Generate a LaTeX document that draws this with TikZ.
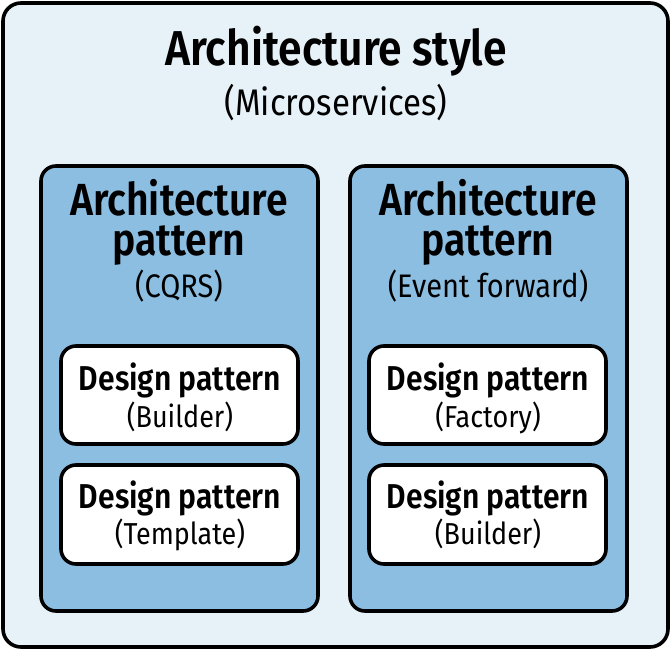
\documentclass[tikz,border=0pt]{standalone}
\usepackage{fontspec}
\setmainfont{Fira Sans}[FakeStretch=0.89]
\newfontfamily\headfont{Fira Sans SemiBold}[FakeStretch=0.87]
\definecolor{outerfill}{RGB}{230,241,248}
\definecolor{innerfill}{RGB}{140,190,226}
\begin{document}
\begin{tikzpicture}[x=1pt,y=-1pt,
  box/.style={draw=black,line width=3.6pt,rounded corners=15pt},
  outerbox/.style={box,fill=outerfill,rounded corners=18pt},
  archbox/.style={box,fill=innerfill},
  dpbox/.style={box,fill=white},
  titletxt/.style={anchor=base,inner sep=0pt,font=\headfont\fontsize{49}{49}\selectfont},
  subtitletxt/.style={anchor=base,inner sep=0pt,font=\fontsize{37}{37}\selectfont},
  aptxt/.style={anchor=base,inner sep=0pt,align=center,font=\headfont\fontsize{45}{40}\selectfont},
  apsub/.style={anchor=base,inner sep=0pt,font=\fontsize{32.6}{32.6}\selectfont},
  dptxt/.style={anchor=base,inner sep=0pt,font=\headfont\fontsize{34.5}{34.5}\selectfont},
  dpsub/.style={anchor=base,inner sep=0pt,font=\fontsize{30.3}{30.3}\selectfont}]
\useasboundingbox (0,0) rectangle (671,650);
% outer
\draw[outerbox] (3,3) rectangle (668,647);
\node[titletxt] (title) at (336,66) {Architecture style};
\node[subtitletxt] (titlesub) at (336,115) {(Microservices)};
% left architecture pattern
\draw[archbox] (41,166) rectangle (318,611);
\node[aptxt] (apl) at (179,255) {Architecture\\pattern};
\node[apsub] (apl3) at (179,297) {(CQRS)};
\draw[dpbox] (61,346) rectangle (298,444);
\node[dptxt] (dpl1a) at (180,390) {Design pattern};
\node[dpsub] (dpl1b) at (180,427) {(Builder)};
\draw[dpbox] (61,465) rectangle (298,564);
\node[dptxt] (dpl2a) at (180,508) {Design pattern};
\node[dpsub] (dpl2b) at (180,544) {(Template)};
% right architecture pattern
\draw[archbox] (350,166) rectangle (627,611);
\node[aptxt] (apr) at (488,255) {Architecture\\pattern};
\node[apsub] (apr3) at (488,297) {(Event forward)};
\draw[dpbox] (369,346) rectangle (606,444);
\node[dptxt] (dpr1a) at (488,390) {Design pattern};
\node[dpsub] (dpr1b) at (488,427) {(Factory)};
\draw[dpbox] (369,465) rectangle (606,564);
\node[dptxt] (dpr2a) at (488,508) {Design pattern};
\node[dpsub] (dpr2b) at (488,544) {(Builder)};
\end{tikzpicture}
\end{document}
